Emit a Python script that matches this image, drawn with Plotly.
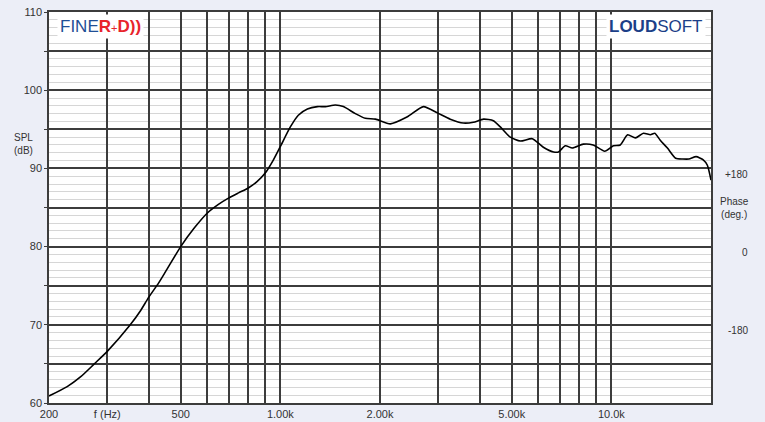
import plotly.graph_objects as go

# Frequency response (Hz, dB SPL)
freq_hz = [
    200, 227, 250, 274, 300, 352, 378, 400, 428, 450, 500, 550, 602, 650, 697,
    750, 800, 850, 900, 953, 1000, 1072, 1133, 1207, 1294, 1368, 1466, 1550,
    1685, 1806, 1937, 2150, 2420, 2705, 2980, 3260, 3570, 3830, 4110, 4400,
    4620, 4950, 5310, 5770, 6230, 6690, 6920, 7260, 7620, 8220, 8810, 9550,
    10140, 10640, 11200, 11820, 12500, 13120, 13530, 14050, 14770, 15640,
    16440, 17150, 18030, 18950, 19500, 20000,
]
spl_db = [
    60.9, 62.1, 63.4, 65.0, 66.6, 70.0, 71.8, 73.5, 75.3, 76.8, 80.0, 82.4,
    84.3, 85.4, 86.2, 86.9, 87.5, 88.3, 89.4, 91.1, 92.8, 95.3, 96.8, 97.6,
    97.9, 97.9, 98.1, 97.9, 97.0, 96.4, 96.3, 95.7, 96.6, 97.9, 97.1, 96.3,
    95.8, 95.9, 96.3, 96.1, 95.3, 94.0, 93.5, 93.8, 92.7, 92.1, 92.1, 92.9,
    92.6, 93.1, 93.0, 92.2, 92.9, 93.0, 94.3, 93.9, 94.5, 94.3, 94.5, 93.6,
    92.6, 91.3, 91.2, 91.2, 91.5, 91.1, 90.4, 88.5,
]

# Axis ticks
x_grid = [200, 300, 400, 500, 600, 700, 800, 900,
          1000, 2000, 3000, 4000, 5000, 6000, 7000, 8000, 9000, 10000]
x_labels = {200: "200", 300: "f (Hz)", 500: "500", 1000: "1.00k",
            2000: "2.00k", 5000: "5.00k", 10000: "10.0k"}
y_major = [60, 65, 70, 75, 80, 85, 90, 95, 100, 105, 110]
phase_ticks = [180, 0, -180]
phase_text = ["+180", "0", "-180"]

GRID = "#3c3c3c"
FONT = "Liberation Sans, Arial, sans-serif"
BG = "#eceef7"

fig = go.Figure(
    go.Scatter(
        x=freq_hz,
        y=spl_db,
        mode="lines",
        line=dict(color="black", width=1.6, shape="spline", smoothing=0.6),
        hoverinfo="skip",
    )
)

fig.update_xaxes(
    type="log",
    range=[2.30103, 4.30103],
    tickmode="array",
    tickvals=x_grid,
    ticktext=[x_labels.get(v, "") for v in x_grid],
    showgrid=True,
    gridcolor=GRID,
    gridwidth=1.5,
    showline=True,
    mirror=True,
    linecolor=GRID,
    linewidth=1.5,
    zeroline=False,
    ticks="",
    automargin=False,
    tickfont=dict(size=11, color="#333", family=FONT),
)
fig.update_yaxes(
    range=[60, 110],
    tickmode="array",
    tickvals=y_major,
    ticktext=[str(v) if v % 10 == 0 else "" for v in y_major],
    showgrid=True,
    gridcolor=GRID,
    gridwidth=1.5,
    minor=dict(tickmode="linear", tick0=60, dtick=1, showgrid=True,
               gridcolor="#d6d6d6", gridwidth=1, ticks=""),
    showline=True,
    mirror=True,
    linecolor=GRID,
    linewidth=1.5,
    zeroline=False,
    ticks="outside",
    ticklen=3,
    tickcolor=GRID,
    automargin=False,
    tickfont=dict(size=11, color="#333", family=FONT),
)

small = dict(size=10, color="#333", family=FONT)
annotations = [
    dict(xref="paper", yref="paper", x=-0.039, y=0.698, xanchor="center",
         text="SPL<br>(dB)", showarrow=False, font=small),
    dict(xref="paper", yref="paper", x=1.061, y=0.499, xanchor="right",
         text="Phase<br>(deg.)", showarrow=False, font=small),
    dict(xref="paper", yref="paper", x=0.012, y=0.995, xanchor="left",
         yanchor="top", bgcolor="white", borderpad=2, showarrow=False,
         text="<span style='color:#1f4f96'>FINE</span>"
              "<span style='color:#e8242c'><b>R</b><span style='font-size:11px'>+</span><b>D))</b></span>",
         font=dict(size=17, family=FONT)),
    dict(xref="paper", yref="paper", x=0.993, y=0.995, xanchor="right",
         yanchor="top", bgcolor="white", borderpad=2, showarrow=False,
         text="<b>LOUD</b>SOFT",
         font=dict(size=17, color="#1c3f88", family=FONT)),
]

# Phase scale on the right: +180 at 90 dB, 0 at 80 dB, -180 at 70 dB
for p, t in zip(phase_ticks, phase_text):
    annotations.append(
        dict(xref="paper", yref="y", x=1.059, y=80 + p / 18, yshift=-6,
             xanchor="right", text=t, showarrow=False, font=small)
    )

fig.update_layout(
    width=765,
    height=422,
    margin=dict(l=49, r=54, t=12, b=19),
    paper_bgcolor=BG,
    plot_bgcolor="white",
    showlegend=False,
    annotations=annotations,
)

fig.write_html(
    "out.html",
    config={"displayModeBar": False},
    post_script="document.body.style.margin='0';"
                f"document.body.style.background='{BG}';",
)
